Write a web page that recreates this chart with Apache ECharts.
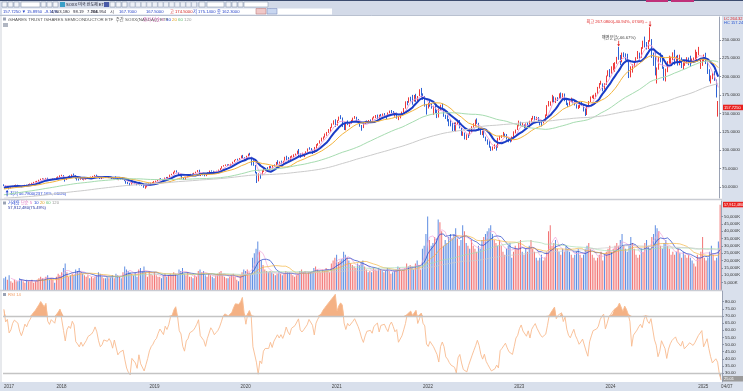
<!DOCTYPE html>
<html><head><meta charset="utf-8">
<script src="https://cdn.jsdelivr.net/npm/echarts/dist/echarts.min.js"></script>
<style>html,body{margin:0;padding:0;background:#fff}#c{width:743px;height:391px}</style>
</head><body><div id="c"></div>
<script>
// ---------- DATA ----------
const firstWeek = '2017-06-05';
// weekly closes before the visible range (indicator warm-up only)
const warmupCloses = [31.5,32.0,32.2,31.8,30.9,31.4,30.8,31.2,31.0,30.6,31.8,31.5,32.0,32.5,33.6,33.8,32.9,32.5,32.2,31.8,30.6,30.0,29.8,28.6,29.0,28.5,28.9,27.6,27.0,27.4,27.8,27.5,27.0,27.2,28.5,29.0,30.4,31.2,32.0,31.0,31.6,32.2,32.6,31.8,31.0,30.8,30.6,
28.6,27.8,27.4,27.0,26.0,25.4,26.8,27.5,28.0,28.6,29.0,29.2,29.6,29.0,29.8,29.5,28.6,28.8,28.6,29.0,30.6,31.2,31.0,30.4,30.2,30.5,31.6,32.8,33.4,34.2,35.0,35.6,35.8,35.6,36.0,36.4,35.8,37.0,36.8,37.2,36.6,36.8,37.6,36.2,37.8,38.6,39.6,38.8,40.2,40.6,41.0,41.4,
42.0,42.6,42.4,43.6,43.2,44.4,45.6,46.0,45.8,46.4,47.0,46.2,46.8,46.6,45.4,45.2,47.8,48.6,50.4,50.0,51.6,52.8];
// weekly [open, high, low, close]
const ohlc2017 = [[52.9,53.6,51.2,51.8],[51.6,52.0,49.6,50.2],[50.3,51.5,49.9,50.9],[51.0,51.2,46.78,48.9],[48.8,49.9,48.0,49.6],[49.7,51.5,49.4,51.3],[51.4,52.6,51.0,52.2],[52.3,53.2,51.8,52.6],[52.7,53.0,51.5,52.0],[52.0,52.2,50.4,50.8],
[50.9,51.3,49.6,50.1],[50.2,51.5,49.9,51.2],[51.3,53.0,51.0,52.8],[52.8,53.1,52.0,52.4],[52.6,53.9,52.4,53.6],[53.7,54.7,53.2,54.4],[54.3,55.7,53.9,55.5],[55.6,56.9,55.4,56.6],[56.7,57.6,56.3,57.3],[57.4,58.3,56.6,57.9],
[58.0,59.8,57.2,59.4],[59.6,61.3,59.3,60.8],[60.9,61.9,60.2,61.2],[61.0,61.4,59.8,60.5],[60.7,62.3,60.5,61.9],[62.0,62.6,58.4,59.5],[59.6,60.2,58.2,59.0],[59.2,60.8,58.9,60.4],[60.6,61.6,60.1,61.0],[61.0,61.3,60.0,60.2]];
const ohlc2018 = [[60.5,63.1,60.3,62.8],[62.9,64.3,62.4,63.9],[64.0,65.8,63.5,65.1],[65.2,66.6,64.6,65.9],[65.8,66.1,61.6,62.0],[62.0,62.9,57.3,59.6],[59.8,63.4,59.4,63.2],[63.3,64.9,62.8,64.5],[64.6,65.8,63.2,64.0],[64.0,67.0,63.6,66.8],
[67.0,68.2,65.7,66.0],[65.8,66.1,61.2,61.6],[61.4,62.5,58.8,60.9],[60.6,61.5,58.7,60.0],[60.2,62.0,59.8,61.4],[61.6,62.4,59.7,60.2],[60.0,61.0,58.9,60.5],[60.6,62.2,59.6,61.8],[62.0,63.4,61.6,63.0],[63.1,63.6,62.0,62.6],
[62.8,64.1,62.5,63.8],[63.9,65.0,63.2,64.6],[64.8,66.4,64.4,66.0],[66.2,66.7,64.7,65.0],[64.8,65.1,62.6,63.0],[62.8,63.2,60.8,61.5],[61.3,62.4,60.7,62.0],[62.2,63.6,61.9,63.2],[63.3,64.0,62.5,63.0],[63.2,64.2,62.4,62.9],
[62.8,63.9,62.0,63.5],[63.6,64.0,62.5,62.9],[62.8,63.0,60.9,61.6],[61.8,63.6,61.5,63.3],[63.4,64.3,62.6,63.0],[62.8,63.0,59.4,60.0],[60.1,61.0,59.2,60.5],[60.6,61.2,59.6,60.1],[60.2,61.3,59.9,60.8],[60.9,61.1,57.9,58.4],
[58.2,58.6,54.4,55.8],[55.9,57.0,53.8,54.2],[54.0,55.4,51.8,53.3],[53.5,57.0,53.2,56.4],[56.6,57.4,55.2,55.8],[55.7,56.3,53.9,54.9],[54.6,55.0,52.3,53.0],[53.2,56.2,52.9,55.9],[56.8,57.0,52.2,52.6],[52.7,53.6,51.6,52.0],
[51.8,52.4,48.9,49.5],[49.2,51.2,47.6,50.9],[50.6,52.8,49.5,52.4]];
const ohlc2019 = [[52.6,54.8,52.3,54.4],[54.5,56.0,53.7,55.6],[55.4,56.6,54.6,56.3],[56.4,58.0,55.4,57.4],[57.5,58.6,56.8,58.0],[58.2,59.9,57.8,59.6],[59.7,61.3,59.2,61.0],[61.2,62.0,60.3,60.8],[60.7,61.0,58.8,59.8],[60.0,62.8,59.8,62.5],
[62.7,63.6,61.2,61.8],[61.6,63.7,61.0,63.4],[63.6,66.8,63.4,66.5],[66.6,67.9,66.0,67.5],[67.7,70.6,67.4,70.3],[70.4,72.4,69.6,72.1],[72.2,72.6,69.5,70.2],[69.2,70.0,65.6,66.6],[66.4,67.7,64.4,65.7],[65.6,66.0,61.2,61.8],
[61.6,62.3,59.6,60.0],[60.2,63.9,59.5,63.6],[63.8,65.2,63.0,64.5],[64.6,67.3,64.2,66.9],[67.0,67.8,65.8,67.2],[68.0,68.4,66.9,67.9],[67.8,69.3,67.2,69.0],[69.1,70.8,68.2,70.5],[70.6,73.0,70.1,72.6],[72.8,73.4,67.6,68.2],
[67.4,68.6,64.8,67.8],[67.9,68.8,65.6,66.7],[66.9,68.4,64.5,64.8],[65.1,67.8,64.7,67.5],[67.6,69.9,67.0,69.6],[69.8,72.3,69.6,72.0],[72.1,72.6,70.8,71.2],[71.3,72.0,69.4,70.0],[70.1,71.0,67.6,70.8],[70.6,72.0,69.4,71.6],
[71.8,73.6,71.2,73.0],[73.1,75.6,72.6,75.2],[75.3,78.3,75.0,78.0],[78.1,79.7,77.6,79.3],[79.4,80.6,78.6,80.3],[80.4,80.8,78.6,79.5],[79.6,80.9,79.0,80.5],[80.4,81.6,78.6,81.3],[81.5,84.3,81.1,84.0],[84.2,86.8,83.8,86.5],
[86.6,87.8,86.2,87.3],[87.4,88.4,85.8,87.0]];
const ohlc2020 = [[87.2,89.4,86.4,88.8],[89.0,92.8,88.7,92.3],[92.4,93.6,88.5,89.0],[88.2,90.4,85.4,86.2],[86.9,92.4,86.5,92.0],[92.2,95.3,91.6,94.8],[95.0,96.4,92.8,93.5],[90.5,91.0,79.2,81.0],[83.0,86.6,78.8,80.8],[77.5,79.8,68.5,71.0],
[68.0,70.2,55.4,59.0],[60.8,68.5,57.6,66.5],[64.8,67.2,61.2,63.8],[66.5,73.0,66.0,72.0],[71.6,74.8,70.4,74.0],[73.2,75.3,71.5,74.6],[75.0,77.0,73.4,74.0],[73.5,78.6,73.0,78.2],[78.0,78.4,73.6,74.6],[75.4,79.6,75.0,79.0],
[79.6,80.6,77.6,79.3],[79.8,84.0,79.4,83.7],[84.2,86.4,80.5,81.8],[81.3,84.6,80.6,84.2],[84.4,85.8,81.6,82.1],[82.0,85.6,81.4,85.3],[86.0,91.0,85.8,90.6],[91.0,92.4,86.6,88.0],[88.4,90.5,85.4,86.5],[86.8,91.8,85.2,91.4],
[91.6,92.8,89.8,92.0],[92.4,94.4,90.6,93.5],[93.6,95.4,92.4,95.0],[95.2,99.4,94.8,99.0],[99.6,101.6,92.0,94.0],[93.0,95.8,89.6,93.0],[93.6,96.6,92.4,94.5],[93.8,95.4,90.6,95.0],[95.6,98.4,94.6,98.0],[98.4,102.4,98.0,102.0],
[102.6,104.0,100.6,102.0],[101.8,102.8,98.8,99.8],[99.6,100.4,94.8,95.8],[96.8,104.4,96.2,104.0],[104.6,108.2,102.4,107.5],[107.8,109.6,106.2,109.0],[109.4,113.4,109.0,112.8],[113.2,117.0,111.8,116.4],[116.8,118.6,114.4,117.5],[118.0,122.6,117.2,122.0],
[122.4,124.8,119.6,124.0],[124.4,128.6,123.4,128.0]];
const ohlc2021 = [[128.5,131.6,124.8,131.0],[132.0,136.4,130.4,135.4],[136.0,140.6,134.6,139.7],[140.2,142.0,131.8,133.0],[134.0,140.8,133.4,140.2],[140.8,145.6,140.0,145.0],[145.4,147.6,142.2,144.0],[143.0,144.4,131.4,134.9],[136.0,137.6,127.4,131.0],[128.8,138.2,127.0,137.3],
[137.8,140.4,134.0,135.8],[135.2,137.0,131.6,135.4],[136.2,141.2,135.6,140.6],[141.0,144.2,139.8,143.5],[144.0,146.4,142.6,145.0],[144.6,145.4,138.6,140.2],[140.8,142.4,136.4,137.3],[137.0,138.0,131.8,133.4],[133.0,134.2,126.4,130.6],[130.8,136.0,130.0,135.4],
[136.0,139.8,135.4,139.2],[139.6,140.4,136.8,138.5],[138.8,141.0,137.6,140.2],[140.4,141.8,137.4,138.7],[138.4,144.4,137.8,144.0],[144.2,146.2,143.2,145.4],[145.6,147.8,143.6,146.9],[147.2,148.4,141.8,142.6],[141.4,148.2,139.6,147.8],[148.0,149.2,145.0,146.9],
[147.2,149.8,146.0,149.3],[149.6,150.4,145.8,147.4],[147.0,147.6,142.2,145.9],[146.4,151.2,145.8,150.7],[151.0,153.8,150.2,153.1],[153.4,154.6,150.4,151.2],[151.6,153.2,148.0,148.8],[147.2,150.8,145.6,150.2],[150.4,151.0,142.8,144.0],[143.6,145.8,140.8,144.5],
[144.8,148.4,143.2,147.8],[148.2,152.4,147.6,151.7],[152.0,157.2,150.8,156.5],[157.0,166.4,156.4,165.6],[165.2,166.8,161.0,165.1],[165.6,171.8,164.4,169.9],[170.4,172.6,166.2,168.0],[168.6,175.2,161.8,167.5],[168.4,175.0,166.0,174.2],[174.6,176.6,165.6,168.0],
[166.8,173.6,164.2,172.8],[174.0,182.8,173.4,179.5]];
const ohlc2022 = [[180.4,184.6,171.8,174.0],[173.0,177.2,168.4,172.5],[172.0,173.4,159.2,160.0],[158.6,162.8,148.4,158.0],[159.0,164.6,156.6,162.0],[162.4,166.8,159.0,160.5],[160.0,163.6,156.4,158.0],[156.8,160.4,148.0,157.5],[158.0,160.8,150.4,152.0],[151.0,154.8,143.6,145.0],
[145.6,156.8,144.4,156.0],[156.6,161.8,154.2,160.0],[161.0,163.4,155.0,156.0],[155.4,156.0,145.4,146.0],[145.8,148.2,142.4,143.5],[144.0,147.6,139.0,139.5],[139.0,142.4,132.6,136.5],[137.0,142.0,132.4,136.0],[135.0,136.8,126.0,134.0],[133.4,137.6,126.2,127.0],
[127.6,137.8,125.4,137.0],[137.6,141.2,134.6,139.5],[139.0,141.0,129.6,130.0],[129.0,130.2,119.6,121.0],[121.6,125.4,119.4,122.0],[122.4,124.0,114.6,116.5],[116.0,121.6,113.8,121.0],[120.4,122.4,116.6,120.0],[120.6,129.0,120.0,128.0],[127.4,132.6,124.4,132.0],
[132.4,136.6,130.6,136.0],[135.4,141.6,132.6,141.0],[141.4,143.2,135.8,136.5],[136.0,137.2,127.0,127.5],[128.0,128.6,120.8,122.0],[122.4,126.6,120.4,126.0],[126.8,129.4,116.8,117.5],[117.0,118.4,112.2,113.0],[112.6,114.6,107.4,108.5],[110.0,113.6,103.4,104.0],
[103.0,105.2,98.8,101.5],[102.0,105.0,99.6,104.0],[104.4,108.0,101.8,106.5],[106.0,107.2,99.4,103.0],[104.0,116.8,103.4,116.0],[116.4,119.6,113.6,118.0],[117.6,120.4,116.6,119.5],[120.0,124.8,118.4,122.5],[121.8,122.6,117.2,118.5],[119.4,122.0,114.4,115.0],
[114.6,116.4,110.8,113.5],[113.0,114.4,110.6,112.5]];
const ohlc2023 = [[113.6,118.6,111.8,118.0],[118.4,125.6,117.6,125.0],[124.6,128.0,122.8,127.5],[128.0,134.6,127.4,134.0],[134.4,140.2,132.4,138.0],[137.4,138.6,132.6,134.0],[134.4,137.8,131.8,135.5],[135.0,135.6,129.8,131.0],[131.4,136.4,130.6,136.0],[136.4,138.0,130.2,131.0],
[131.6,140.0,130.4,139.5],[139.4,143.6,137.8,143.0],[143.4,146.6,141.6,146.0],[145.8,146.4,140.4,143.0],[142.6,145.4,140.8,144.0],[144.4,145.0,138.6,139.0],[139.4,140.6,133.6,137.5],[137.0,138.2,132.4,137.0],[137.4,141.2,136.4,140.0],[140.4,148.6,139.8,148.0],
[148.6,161.2,146.6,160.0],[161.0,166.8,159.4,164.5],[164.2,166.2,160.4,165.0],[165.6,175.2,164.8,173.0],[172.4,173.2,164.8,166.0],[165.4,171.6,164.0,171.0],[170.4,172.0,166.8,170.0],[170.6,177.2,169.8,176.0],[176.8,178.4,169.4,170.5],[171.0,177.4,168.2,176.5],
[176.0,177.0,166.6,168.0],[167.4,169.6,161.4,163.0],[162.6,164.4,158.8,161.0],[161.8,167.6,160.6,165.5],[166.0,171.4,165.2,170.0],[169.4,170.0,163.6,165.0],[165.4,167.8,160.8,162.0],[161.4,162.4,156.6,158.0],[158.4,161.2,156.0,160.0],[159.6,163.4,157.4,162.5],
[163.0,166.4,160.0,161.5],[161.0,162.6,152.6,153.0],[153.6,157.4,146.4,148.0],[148.6,160.6,147.8,160.0],[160.4,166.8,159.2,166.0],[166.6,173.0,165.4,172.0],[172.4,174.4,170.6,173.5],[173.0,175.4,169.6,174.0],[173.6,178.0,170.4,177.0],[177.6,186.0,176.4,185.0],
[185.4,191.2,183.8,190.0],[190.4,194.4,189.0,193.0]];
const ohlc2024 = [[190.0,190.8,180.0,183.0],[183.6,191.0,182.6,190.0],[190.6,201.4,188.8,200.0],[201.0,208.6,200.4,204.0],[204.6,210.2,199.0,204.5],[205.0,214.0,204.0,213.0],[213.6,218.4,208.2,214.0],[212.0,219.6,206.6,218.0],[218.6,226.8,217.4,226.0],[227.0,240.6,222.8,225.0],
[224.4,229.4,215.6,221.0],[220.4,232.6,219.4,231.0],[231.4,233.0,226.4,229.0],[228.6,231.6,222.4,226.0],[226.6,231.0,219.6,221.0],[220.4,222.0,198.0,199.0],[199.6,214.0,199.0,213.0],[213.4,216.6,205.4,214.0],[214.6,221.4,212.8,220.0],[220.6,226.4,219.2,225.0],
[225.6,234.8,224.0,229.0],[229.4,232.6,221.6,226.0],[226.4,240.0,225.6,239.0],[239.6,248.8,237.8,247.0],[248.6,254.4,239.6,242.0],[241.4,247.0,236.8,240.0],[240.6,249.6,237.4,248.0],[248.6,267.08,247.4,251.0],[250.4,251.0,225.4,228.0],[227.4,232.6,214.6,221.0],
[222.0,233.0,201.6,203.0],[192.0,212.4,190.6,210.0],[210.6,227.0,209.4,226.0],[226.6,232.4,219.4,225.0],[226.0,229.4,210.6,214.0],[212.4,213.4,194.6,196.0],[196.4,210.8,193.4,210.0],[210.6,221.0,206.0,219.0],[219.6,228.4,217.6,225.0],[224.0,227.0,216.6,225.0],
[225.6,233.0,222.6,231.0],[232.0,236.4,216.0,224.0],[224.6,228.4,220.4,225.0],[225.6,229.6,215.0,218.0],[218.6,229.8,215.4,225.0],[225.4,226.0,211.6,214.0],[214.4,219.8,209.6,216.0],[216.6,221.4,214.6,219.0],[219.4,226.4,217.8,222.0],[222.6,226.0,215.4,222.0],
[223.0,228.4,213.0,219.0],[219.6,224.6,218.0,222.0],[222.4,226.0,218.6,222.5]];
const ohlc2025 = [[223.0,236.6,221.4,230.0],[229.4,233.6,222.0,232.0],[232.6,240.4,229.0,236.0],[218.0,224.6,210.4,220.0],[219.0,224.0,214.6,221.0],[221.6,230.0,220.4,229.0],[229.6,232.4,217.0,218.0],[218.6,220.4,203.6,207.0],[207.6,210.0,193.6,197.0],[196.4,201.6,190.6,198.0],
[198.6,205.6,196.4,201.0],[201.6,207.4,194.2,196.0],[193.0,196.0,171.6,173.62],[150.4,166.8,145.6,157.725]];
// weekly volume, millions of shares
const vol2017 = [8,9,7,10,6,5,7,6,6,8,7,6,5,7,6,6,7,5,6,7,8,9,8,7,9,10,7,8,7,5];
const vol2018 = [9,11,10,12,15,18,12,9,10,11,10,14,13,15,12,11,10,9,10,8,9,8,9,10,12,11,9,8,8,9,8,9,10,8,11,10,9,8,12,16,14,13,12,11,10,12,9,14,15,13,16,12,9];
const vol2019 = [13,11,10,12,10,9,9,8,10,11,9,10,11,10,12,11,10,14,13,15,11,10,12,9,9,8,10,9,13,14,12,13,10,9,11,10,9,8,10,11,12,13,10,9,8,8,9,10,11,9,7,6];
const vol2020 = [10,12,14,13,14,12,11,22,25,28,33,26,20,17,14,13,12,13,12,11,10,11,12,11,10,11,13,12,12,11,10,9,10,11,13,14,12,13,11,12,12,13,15,16,14,13,12,14,13,15,14,12];
const vol2021 = [18,20,22,24,19,20,21,26,24,22,20,18,17,16,15,18,17,19,20,16,14,12,13,12,15,14,13,15,14,13,12,13,15,13,11,12,13,14,16,15,13,14,15,18,16,17,15,14,18,20,17,14];
const vol2022 = [28,30,38,50,34,30,32,36,35,48,46,40,30,34,32,36,38,35,38,42,35,30,34,44,40,32,30,28,34,30,28,26,30,28,34,36,38,40,42,44,38,34,32,30,34,30,26,24,28,30,32,22];
const vol2023 = [26,30,28,32,34,26,24,28,26,30,34,28,26,22,20,22,24,20,22,26,40,44,30,32,34,28,26,24,28,26,30,28,26,24,22,24,26,28,24,22,24,28,30,32,28,24,22,20,22,24,26,20];
const vol2024 = [24,26,28,30,26,28,30,32,30,34,38,30,28,26,30,36,32,28,24,22,24,28,26,32,34,30,28,36,38,44,42,40,30,28,32,34,30,28,24,26,24,26,28,25,22,26,24,22,24,22,20,18,16];
const vol2025 = [24,22,26,36,22,20,22,26,30,24,20,22,33,57.91248];
const priceTicks = [50,75,100,125,150,175,200,225,250];
const volTicks = [5,10,15,20,25,30,35,40,45,50];
const rsiTicks = [25,30,35,40,45,50,55,60,65,70,75,80];
const maPeriods = [5,10,20,60,120];
const maColors = ['#f2a3d8','#1b3cc6','#f3b43c','#a6dcb0','#cbcbcb'];

// ---------- BUILD ----------
const ohlc = [].concat(ohlc2017,ohlc2018,ohlc2019,ohlc2020,ohlc2021,ohlc2022,ohlc2023,ohlc2024,ohlc2025);
const volumes = [].concat(vol2017,vol2018,vol2019,vol2020,vol2021,vol2022,vol2023,vol2024,vol2025);
const N = ohlc.length;
const dates = [];
{ let t = Date.parse(firstWeek + 'T00:00:00Z');
  for (let i = 0; i < N; i++) { const d = new Date(t + i*7*864e5);
    dates.push(d.getUTCFullYear()+'/'+String(d.getUTCMonth()+1).padStart(2,'0')+'/'+String(d.getUTCDate()).padStart(2,'0')); } }
const closes = ohlc.map(r => r[3]);
const allCloses = warmupCloses.concat(closes);
const W = warmupCloses.length;
function sma(arr, n) { return arr.map((_, i) => { if (i < n-1) return null; let s = 0; for (let k = i-n+1; k <= i; k++) s += arr[k]; return +(s/n).toFixed(3); }); }
function rsi(arr, n) { const out = arr.map(() => null); let g = 0, l = 0;
  for (let i = 1; i <= n; i++) { const d = arr[i]-arr[i-1]; if (d > 0) g += d; else l -= d; }
  g /= n; l /= n; out[n] = 100 - 100/(1 + g/(l||1e-9));
  for (let i = n+1; i < arr.length; i++) { const d = arr[i]-arr[i-1];
    g = (g*(n-1) + Math.max(d,0))/n; l = (l*(n-1) + Math.max(-d,0))/n; out[i] = 100 - 100/(1 + g/(l||1e-9)); }
  return out; }
const rsiVals = rsi(allCloses, 14).slice(W).map(v => v == null ? null : +v.toFixed(2));
const UP = '#ee3a3a', DOWN = '#2d63d6', VUP = '#f27474', VDOWN = '#5d8ce2';
const FONT = "'Liberation Sans','Noto Sans CJK KR',sans-serif";

const chart = echarts.init(document.getElementById('c'), null, {renderer: 'canvas', width: 743, height: 391});
const gridL = 3, gridR = 21;
const xBase = { type: 'category', data: dates, boundaryGap: true, axisLine: {show: false}, axisTick: {show: false}, axisLabel: {show: false}, splitLine: {show: false} };
const yLab = (vals, fmt) => ({ show: true, customValues: vals, formatter: fmt, fontSize: 4.3, color: '#333', margin: 3, fontFamily: FONT });
const yTick = vals => ({ show: true, customValues: vals, length: 2, lineStyle: {color: '#8a93a6'} });

const series = [];
series.push({ name: 'price', type: 'candlestick', xAxisIndex: 0, yAxisIndex: 0, barWidth: 1,
  data: ohlc.map(([o,h,l,c]) => [o, c, l, h]),
  itemStyle: { color: UP, color0: DOWN, borderColor: UP, borderColor0: DOWN, borderWidth: 1 } });
maPeriods.forEach((p, k) => series.push({ name: 'MA' + p, type: 'line', xAxisIndex: 0, yAxisIndex: 0, showSymbol: false, symbol: 'none',
  data: sma(allCloses, p).slice(W), lineStyle: { color: maColors[k], width: p === 10 ? 2 : 1 }, z: 3 }));
series.push({ name: 'volume', type: 'bar', xAxisIndex: 1, yAxisIndex: 1, barWidth: 1,
  data: volumes.map((v, i) => ({ value: v, itemStyle: { color: ohlc[i][3] >= ohlc[i][0] ? VUP : VDOWN } })) });
maPeriods.forEach((p, k) => series.push({ name: 'VMA' + p, type: 'line', xAxisIndex: 1, yAxisIndex: 1, symbol: 'none',
  data: sma(volumes, p), lineStyle: { color: maColors[k], width: 0.8, opacity: 0.85 }, z: 3 }));
series.push({ name: 'rsiHi', type: 'line', xAxisIndex: 2, yAxisIndex: 2, symbol: 'none',
  data: rsiVals.map(v => v == null ? null : Math.max(v, 70)), lineStyle: { width: 0 },
  areaStyle: { origin: 70, color: '#f2a36e', opacity: 0.85 }, z: 2 });
series.push({ name: 'rsiLo', type: 'line', xAxisIndex: 2, yAxisIndex: 2, symbol: 'none',
  data: rsiVals.map(v => v == null ? null : Math.min(v, 30)), lineStyle: { width: 0 },
  areaStyle: { origin: 30, color: '#9a9a9a', opacity: 0.8 }, z: 2 });
series.push({ name: 'RSI', type: 'line', xAxisIndex: 2, yAxisIndex: 2, symbol: 'none', data: rsiVals,
  lineStyle: { color: '#f8bb90', width: 0.9 }, z: 3,
  markLine: { silent: true, symbol: 'none', label: {show: false}, lineStyle: { color: '#c4c4c4', width: 1.4, type: 'solid' },
    data: [{ yAxis: 70 }, { yAxis: 30 }] } });

chart.setOption({
  animation: false,
  backgroundColor: '#ffffff',
  grid: [
    { left: gridL, right: gridR, top: 17, height: 181 },
    { left: gridL, right: gridR, top: 201, height: 89 },
    { left: gridL, right: gridR, top: 291, height: 91 }
  ],
  xAxis: [
    Object.assign({}, xBase, { gridIndex: 0 }),
    Object.assign({}, xBase, { gridIndex: 1 }),
    Object.assign({}, xBase, { gridIndex: 2, axisLabel: { show: true, fontSize: 4.5, color: '#444', margin: 3, align: 'left', fontFamily: FONT,
      interval: (i) => i === 0 || i === N-1 || dates[i].slice(0,4) !== dates[i-1].slice(0,4),
      formatter: (v, i) => i === N-1 ? v.slice(5) : v.slice(0,4) } })
  ],
  yAxis: [
    { gridIndex: 0, type: 'value', position: 'right', min: 35, max: 281, axisLine: {show: true, lineStyle: {color: '#9aa2b4'}},
      axisTick: yTick(priceTicks), axisLabel: yLab(priceTicks, v => v.toFixed(4)), splitLine: {show: false} },
    { gridIndex: 1, type: 'value', position: 'right', min: 0, max: 60.5, axisLine: {show: true, lineStyle: {color: '#9aa2b4'}},
      axisTick: yTick(volTicks), axisLabel: yLab(volTicks, v => v + ',000K'), splitLine: {show: false} },
    { gridIndex: 2, type: 'value', position: 'right', min: 23.7, max: 87.5, axisLine: {show: true, lineStyle: {color: '#9aa2b4'}},
      axisTick: yTick(rsiTicks), axisLabel: yLab(rsiTicks, v => v.toFixed(2)), splitLine: {show: false} }
  ],
  series: series
});

// ---------- ANNOTATIONS / CHROME ----------
const last = N - 1;
let hiIdx = 0, loIdx = 0;
ohlc.forEach((r, i) => { if (r[1] > ohlc[hiIdx][1]) hiIdx = i; if (r[2] < ohlc[loIdx][2]) loIdx = i; });
const hiP = chart.convertToPixel({xAxisIndex: 0, yAxisIndex: 0}, [hiIdx, ohlc[hiIdx][1]]);
const loP = chart.convertToPixel({xAxisIndex: 0, yAxisIndex: 0}, [loIdx, ohlc[loIdx][2]]);
const splitIdx = dates.indexOf('2024/03/04');
const spP = chart.convertToPixel({xAxisIndex: 0, yAxisIndex: 0}, [splitIdx, ohlc[splitIdx][1]]);
const lastC = closes[last], prevC = closes[last-1];
const curP = chart.convertToPixel({xAxisIndex: 0, yAxisIndex: 0}, [last, lastC]);
const volP = chart.convertToPixel({xAxisIndex: 1, yAxisIndex: 1}, [last, volumes[last]]);
const rsiP = chart.convertToPixel({xAxisIndex: 2, yAxisIndex: 2}, [last, rsiVals[last]]);
const pct = (a, b) => ((a/b - 1)*100).toFixed(2);
const fmtD = s => s.slice(5);
const g = [];
const T = (x, y, text, fill, size, extra) => g.push(Object.assign({ type: 'text', x, y, silent: true,
  style: { text, fill, font: (size || 4.5) + 'px ' + FONT, textVerticalAlign: 'middle' } }, extra || {}));
const R = (x, y, w, h, fill, z, stroke) => g.push({ type: 'rect', shape: {x, y, width: w, height: h}, silent: true, z: z == null ? -1 : z,
  style: { fill, stroke: stroke || null, lineWidth: stroke ? 0.6 : 0 } });
const L = (x1, y1, x2, y2, stroke, w, z) => g.push({ type: 'line', shape: {x1, y1, x2, y2}, silent: true, z: z == null ? 5 : z, style: { stroke, lineWidth: w || 1 } });

// right axis column and bottom axis strip
R(722, 16, 21, 375, '#d9e0ec', -1);
R(0, 382, 743, 9, '#d9e0ec', -1);
// toolbar
R(0, 0, 743, 16, '#d3dae8', -1);
R(0, 0, 743, 1, '#3b4b6e', 0);
R(646, 0, 22, 2, '#c0307a', 1); R(671, 0, 23, 2, '#c0307a', 1);
L(0, 15.5, 743, 15.5, '#b9c1d0', 1);
// panel separators
L(0, 199.5, 722, 199.5, '#c9ccd3', 1.6);
L(0, 290.5, 722, 290.5, '#c9ccd3', 1.6);
L(1, 16, 1, 382, '#cfd3da', 1);
// toolbar row 1
[2, 8, 14].forEach(x => R(x, 2, 5, 5, '#f4f6fa', 1, '#8f9ab0'));
R(21, 2, 19, 5, '#ffffff', 1, '#8f9ab0'); T(23, 4.6, 'SOXX', '#222', 4);
R(41, 2, 5, 5, '#f4f6fa', 1, '#8f9ab0'); R(47, 2, 5, 5, '#f4f6fa', 1, '#8f9ab0'); R(53, 2, 5, 5, '#f4f6fa', 1, '#8f9ab0');
R(60, 2, 5, 5, '#3aa0c8', 1); T(66, 4.6, 'SOXX 미국 반도체 ETF', '#223', 4);
R(104, 2, 5, 5, '#4a5ba8', 1); R(110, 2, 5, 5, '#f4f6fa', 1, '#8f9ab0'); R(116, 2, 5, 5, '#f4f6fa', 1, '#8f9ab0'); R(122, 2, 5, 5, '#f4f6fa', 1, '#8f9ab0');
T(110.5, 4.6, '월', '#333', 3.6); T(116.5, 4.6, '년', '#333', 3.6); T(122.5, 4.6, '틱', '#333', 3.6);
for (let k = 1; k <= 12; k++) { R(130 + (k-1)*5.6, 2, 5, 5, '#eef1f7', 1, '#a3acbf'); T(131 + (k-1)*5.6, 4.6, String(k), '#556', 3.4); }
R(199, 2, 6, 5, '#f4f6fa', 1, '#8f9ab0');
R(207, 2, 17, 5, '#ffffff', 1, '#8f9ab0'); T(209, 4.6, '408/750', '#222', 4);
[226, 232, 238].forEach(x => R(x, 2, 5, 5, '#f4f6fa', 1, '#8f9ab0'));
R(244, 2, 24, 5, '#ffffff', 1, '#8f9ab0'); T(246, 4.6, dates[last], '#222', 4);
// toolbar row 2
R(2, 8.5, 330, 6, '#ffffff', 0);
T(3, 11.5, lastC.toFixed(4) + ' ▼ ' + (prevC - lastC).toFixed(4) + '  ' + pct(lastC, prevC) + '%', '#2340c8', 4.2);
T(51, 11.5, '4,903,180   98.19   7.184', '#223', 4.2);
T(91, 11.5, '706.954', '#223', 4.2); T(110, 11.5, '시', '#223', 4.2);
T(119, 11.5, '167.7000', '#2340c8', 4.2); T(146, 11.5, '167.5000', '#2340c8', 4.2);
T(170, 11.5, '고 174.5000', '#d02020', 4.2); T(193, 11.5, '저 175.1400', '#2340c8', 4.2);
T(217, 11.5, '종 162.3000', '#2340c8', 4.2);
R(256, 8.5, 10, 5.5, '#f0c8c8', 1, '#c08080'); T(257, 11.3, '매수', '#a02020', 3.6);
R(267, 8.5, 10, 5.5, '#c8d6f0', 1, '#8090c0'); T(268, 11.3, '매도', '#2030a0', 3.6);
// price panel legend
R(3, 17.5, 3, 3, '#9aa2b4', 1);
T(8, 19.5, 'iSHARES TRUST ISHARES SEMICONDUCTOR ETF  주간 SOXX(NASDAQ) ETF', '#555', 4.4);
T(143, 19.5, '종가 단순 5', '#e070c0', 4.4); T(166, 19.5, '10', '#2040d0', 4.4); T(172, 19.5, '20', '#e0a020', 4.4);
T(178, 19.5, '60', '#60c070', 4.4); T(184, 19.5, '120', '#999', 4.4);
R(3, 23, 5, 4, '#b0b6c2', 1);
// volume legend
R(3, 201.5, 3, 3, '#9aa2b4', 1);
T(8, 203, '거래량', '#2040d0', 4.2); T(21, 203, '단순 5', '#e070c0', 4.2); T(34, 203, '10', '#2040d0', 4.2);
T(40, 203, '20', '#e0a020', 4.2); T(46, 203, '60', '#60c070', 4.2); T(52, 203, '120', '#999', 4.2);
T(8, 207.5, Math.round(volumes[last]*1e6).toLocaleString('en-US') + '(' + pct(volumes[last], volumes[last-1]) + '%)', '#2030a0', 4.2);
// rsi legend
R(3, 293, 3, 3, '#9aa2b4', 1);
T(8, 294.5, 'RSI 14', '#f09a60', 4.2);
// extreme annotations
const hiTxt = '최고 ' + ohlc[hiIdx][1].toFixed(4) + '(' + pct(lastC, ohlc[hiIdx][1]) + '%, ' + fmtD(dates[hiIdx]) + ')→';
g.push({ type: 'text', x: hiP[0] - 2, y: hiP[1] - 5, silent: true, z: 6, style: { text: hiTxt, fill: '#e02828', font: '4.2px ' + FONT, textAlign: 'right', textVerticalAlign: 'middle' } });
L(hiP[0], hiP[1] - 6, hiP[0], hiP[1] - 1, '#e02828', 0.8);
g.push({ type: 'polygon', shape: { points: [[hiP[0]-1.5, hiP[1]-2.5], [hiP[0]+1.5, hiP[1]-2.5], [hiP[0], hiP[1]-0.5]] }, style: { fill: '#e02828' }, z: 5, silent: true });
g.push({ type: 'text', x: spP[0], y: spP[1] - 9, silent: true, z: 6, style: { text: '액면분할(-66.67%)', fill: '#444', font: '4.2px ' + FONT, textAlign: 'center', textVerticalAlign: 'middle' } });
L(spP[0], spP[1] - 6, spP[0], spP[1] - 1, '#e02828', 0.8);
g.push({ type: 'polygon', shape: { points: [[spP[0]-1.5, spP[1]-2.5], [spP[0]+1.5, spP[1]-2.5], [spP[0], spP[1]-0.5]] }, style: { fill: '#e02828' }, z: 5, silent: true });
L(loP[0] - 2, loP[1] + 1, loP[0] - 2, loP[1] + 7, '#2040d0', 0.8);
g.push({ type: 'polygon', shape: { points: [[loP[0]-3.5, loP[1]+3], [loP[0]-0.5, loP[1]+3], [loP[0]-2, loP[1]+1]] }, style: { fill: '#2040d0' }, z: 5, silent: true });
T(loP[0] + 1, loP[1] + 5, '최저 ' + ohlc[loIdx][2].toFixed(4) + '(' + pct(lastC, ohlc[loIdx][2]) + '%, ' + fmtD(dates[loIdx]) + ')', '#2040d0', 4.2);
// axis value boxes
T(724, 19, 'LC 264.32', '#e02020', 4);
T(724, 23, 'HC 157.24', '#2050d0', 4);
R(723, curP[1] - 3, 20, 5.5, '#e8201e', 3); T(724, curP[1] - 0.2, lastC.toFixed(4), '#ffffff', 4, { z: 6 });
R(723, volP[1] - 3, 20, 5.5, '#e8201e', 3); T(724, volP[1] - 0.2, Math.round(volumes[last]*1e6).toLocaleString('en-US'), '#ffffff', 3.8, { z: 6 });
const rsiBoxY = Math.min(rsiP[1], 379);
R(723, rsiBoxY - 3, 20, 5.5, '#9a9a9a', 3); T(724, rsiBoxY - 0.2, rsiVals[last].toFixed(2), '#ffffff', 4, { z: 6 });
chart.setOption({ graphic: g });
</script></body></html>
